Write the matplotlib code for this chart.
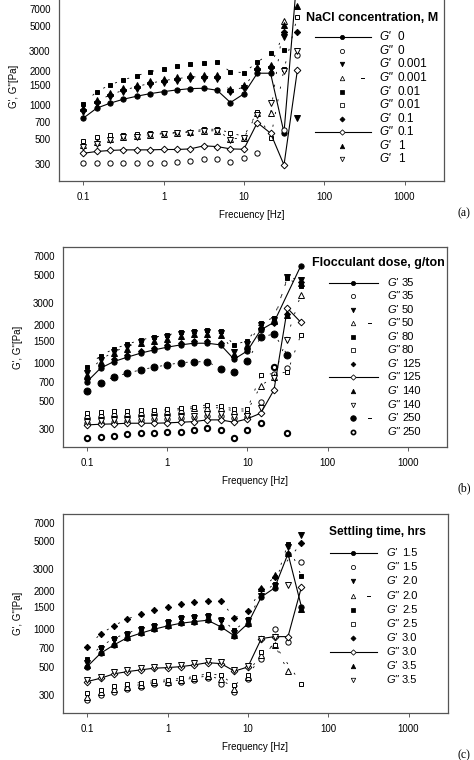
import numpy as np
import matplotlib
matplotlib.use("Agg")
import matplotlib.pyplot as plt
from matplotlib.lines import Line2D

plt.rcParams['font.family'] = ['Liberation Sans', 'DejaVu Sans']

nan = np.nan
W, H = 474, 760

# oscillation frequency sweep [Hz]
freq = [0.1, 0.147, 0.215, 0.316, 0.464, 0.681, 1.0, 1.47, 2.15, 3.16,
        4.64, 6.81, 10.0, 14.7, 21.5, 31.6, 46.4]

# (a) NaCl concentration, M
nacl_mod = ["G'", 'G"', "G'", 'G"', "G'", 'G"', "G'", 'G"', "G'", "G'"]
nacl_val = ["0", "0", "0.001", "0.001", "0.01", "0.01", "0.1", "0.1", "1", "1"]
nacl_data = [
    [762, 935, 1035, 1123, 1194, 1259, 1311, 1358, 1394, 1405, 1350, 1050, 1253, 1909, 1909, 569, 15000],
    [305, 308, 308, 308, 308, 308, 308, 313, 317, 331, 331, 313, 340, 373, nan, 600, 2770],
    [867, 1027, 1177, 1295, 1394, 1494, 1576, 1641, 1698, 1709, 1698, 1300, 1400, 2000, 2100, 4000, 762],
    [440, 470, 500, 520, 530, 545, 555, 565, 575, 590, 590, 500, 510, 850, 845, 5560, nan],
    [1014, 1311, 1503, 1664, 1816, 1971, 2083, 2199, 2305, 2367, 2385, 1971, 1931, 2385, 2905, 3070, nan],
    [483, 524, 543, 543, 551, 562, 562, 573, 581, 609, 609, 569, 524, 872, 507, 2070, 6050],
    [903, 1070, 1226, 1349, 1452, 1556, 1642, 1709, 1769, 1780, 1769, 1338, 1434, 2083, 2184, 4455, 4455],
    [373, 387, 395, 400, 400, 400, 403, 403, 408, 434, 428, 408, 405, 697, 562, 294, 2040],
    [940, 1110, 1275, 1400, 1510, 1620, 1710, 1780, 1840, 1850, 1840, 1390, 1490, 2160, 2250, 5100, 7520],
    [422, 452, 490, 518, 525, 543, 554, 562, 567, 589, 583, 490, 510, 816, 1035, 1990, 3020],
]

# (b) flocculant dose, g/ton
floc_mod = ["G'", 'G"', "G'", 'G"', "G'", 'G"', "G'", 'G"', "G'", 'G"', "G'", 'G"']
floc_val = ["35", "35", "50", "50", "80", "80", "125", "125", "140", "140", "250", "250"]
floc_data = [
    [711, 908, 1024, 1110, 1194, 1268, 1333, 1390, 1433, 1433, 1390, 1070, 1245, 1828, 2103, nan, 5890],
    [332, 336, 342, 348, 353, 357, 360, 364, 375, 382, 382, 364, 375, 493, 820, 918, nan],
    [829, 1057, 1229, 1346, 1476, 1542, 1600, 1690, 1739, 1752, 1721, 1216, 1415, 2003, 2194, 4800, 4560],
    [386, 390, 397, 403, 408, 413, 418, 425, 435, 442, 440, 415, 415, 660, 778, nan, 3460],
    [925, 1143, 1292, 1406, 1523, 1600, 1667, 1752, 1803, 1828, 1803, 1390, 1503, 2088, 2291, 4700, 4080],
    [403, 410, 418, 418, 424, 424, 429, 437, 450, 464, 456, 431, 431, 803, nan, 844, 1667],
    [740, 945, 1065, 1155, 1240, 1320, 1385, 1445, 1490, 1490, 1445, 1110, 1295, 1900, 2066, 2436, 4420],
    [322, 326, 328, 332, 332, 332, 334, 338, 342, 353, 353, 338, 360, 399, 611, 2717, 2103],
    [800, 1020, 1190, 1300, 1430, 1500, 1560, 1650, 1700, 1710, 1680, 1180, 1380, 1950, 2150, 2400, 4300],
    [338, 343, 349, 355, 360, 364, 367, 371, 382, 390, 390, 371, 382, 437, 756, 1523, nan],
    [603, 698, 770, 829, 880, 925, 964, 1005, 1019, 1024, 896, 844, 1037, 1600, 1698, 1157, nan],
    [253, 260, 265, 272, 277, 280, 282, 285, 294, 307, 294, 255, 294, 332, 935, 277, nan],
]

# (c) settling time, hrs
settle_mod = ["G'", 'G"', "G'", 'G"', "G'", 'G"', "G'", 'G"', "G'", 'G"']
settle_val = ["1.5", "1.5", "2.0", "2.0", "2.5", "2.5", "3.0", "3.0", "3.5", "3.5"]
settle_data = [
    [502, 641, 746, 853, 925, 995, 1057, 1110, 1143, 1172, 1037, 880, 1102, 1795, 2115, 3960, 1503],
    [273, 299, 318, 332, 348, 364, 371, 382, 394, 408, 368, 316, 403, 581, 995, 789, 3400],
    [540, 690, 810, 890, 975, 1040, 1120, 1190, 1230, 1250, 1150, 920, 1150, 1820, 2200, 4500, 5590],
    [290, 313, 335, 349, 361, 376, 382, 394, 406, 425, 398, 336, 418, 620, 750, 462, nan],
    [575, 724, 844, 925, 1013, 1076, 1164, 1239, 1275, 1292, 1207, 977, 1194, 1871, 2291, 4750, 2620],
    [309, 328, 353, 366, 375, 389, 394, 406, 418, 442, 429, 357, 434, 656, 750, nan, 368],
    [724, 912, 1062, 1200, 1309, 1415, 1503, 1578, 1647, 1660, 1660, 1222, 1381, 2065, 2586, nan, 4815],
    [382, 406, 440, 458, 473, 488, 493, 502, 518, 540, 530, 462, 499, 838, 869, 869, 2143],
    [515, 655, 765, 870, 945, 1015, 1080, 1130, 1165, 1195, 1060, 900, 1120, 2115, 2670, 4000, 1450],
    [393, 418, 452, 470, 486, 502, 507, 516, 533, 556, 546, 475, 512, 838, 869, 2240, nan],
]

yticks = [300, 500, 700, 1000, 1500, 2000, 3000, 5000, 7000]
xticks = [0.1, 1, 10, 100, 1000]

# marker styles: (marker, filled, size, edge width, line in plot, mark in legend)
st_a = [('o', 1, 3.8, .7, 'solid', 'solid'), ('o', 0, 3.8, .7, None, None),
        ('v', 1, 4.0, .7, None, None), ('^', 0, 4.0, .7, 'dash', 'dash'),
        ('s', 1, 3.4, .7, 'dash', None), ('s', 0, 3.4, .7, 'dash', None),
        ('D', 1, 3.2, .7, 'dash', None), ('D', 0, 3.4, .7, 'solid', 'solid'),
        ('^', 1, 4.0, .7, None, None), ('v', 0, 4.0, .7, None, None)]
st_b = [('o', 1, 3.8, .7, 'solid', 'solid'), ('o', 0, 3.8, .7, None, None),
        ('v', 1, 4.0, .7, 'dash', None), ('^', 0, 4.0, .7, 'dash', 'dash'),
        ('s', 1, 3.4, .7, 'dash', None), ('s', 0, 3.4, .7, 'dash', None),
        ('D', 1, 3.0, .7, None, None), ('D', 0, 3.4, .7, 'solid', 'solid'),
        ('^', 1, 4.0, .7, None, None), ('v', 0, 4.0, .7, None, None),
        ('o', 1, 5.0, .7, 'dash', 'dash'), ('o', 0, 3.8, 1.5, None, None)]
st_c = [('o', 1, 3.8, .7, 'solid', 'solid'), ('o', 0, 3.8, .7, None, None),
        ('v', 1, 4.0, .7, None, None), ('^', 0, 4.0, .7, 'dash', 'dash'),
        ('s', 1, 3.4, .7, 'dash', None), ('s', 0, 3.4, .7, 'dash', None),
        ('D', 1, 3.2, .7, 'dash', None), ('D', 0, 3.4, .7, 'solid', 'solid'),
        ('^', 1, 4.0, .7, None, None), ('v', 0, 4.0, .7, None, None)]

fig = plt.figure(figsize=(W / 100, H / 100), dpi=100)


def fx(x):
    return x / W


def fy(y):
    return 1 - y / H


def mstyle(s, scale=1.0):
    m, filled, ms, mew = s[:4]
    return dict(marker=m, markersize=ms * scale, markeredgewidth=mew * scale, color='black',
                markerfacecolor='black' if filled else 'white', markeredgecolor='black')


def panel(box, ylim, data, styles, mods, vals, title, leg, xlabel, tag, tag_y):
    l, t, r, b = box
    ax = fig.add_axes([fx(l), fy(b), fx(r - l), (b - t) / H])
    ax.set_xscale('log')
    ax.set_yscale('log')
    ax.set_xlim(0.05, 3100)
    ax.set_ylim(*ylim)
    f = np.array(freq)
    for vals_i, s in zip(data, styles):
        v = np.array(vals_i, dtype=float)
        ok = np.isfinite(v)
        ls = {'solid': '-', 'dash': (0, (2.5, 13))}.get(s[4], 'none')
        lw = 0.8 if s[4] == 'solid' else 0.6
        ax.plot(f[ok], v[ok], linestyle=ls, linewidth=lw, **mstyle(s))
    ax.xaxis.set_major_locator(plt.FixedLocator(xticks))
    ax.xaxis.set_minor_locator(plt.NullLocator())
    ax.yaxis.set_major_locator(plt.FixedLocator(yticks))
    ax.yaxis.set_minor_locator(plt.NullLocator())
    ax.set_xticklabels(["0.1", "1", "10", "100", "1000"])
    ax.set_yticklabels([str(v) for v in yticks])
    ax.tick_params(axis='x', direction='out', length=3, width=0.6, pad=5,
                   labelsize=7, color='#444444')
    ax.tick_params(axis='y', length=0, pad=6, labelsize=7)
    for sp in ax.spines.values():
        sp.set_color('#555555')
        sp.set_linewidth(0.9)
    ax.set_xlabel(xlabel, fontsize=7, labelpad=6)
    ax.set_ylabel("G', G''[Pa]", fontsize=7, labelpad=7)
    fig.text(fx(464), fy(tag_y), tag, fontsize=8.5, family='Liberation Serif',
             ha='center', va='center')

    # legend, drawn by hand to keep the original spacing
    tx, ty, y0, dy, mx, lx1, lx2, gx, vx, tsize, fsize = leg
    fig.text(fx(tx), fy(ty), title, fontsize=tsize, fontweight='bold',
             ha='center', va='center')
    for i, (s, m, v) in enumerate(zip(styles, mods, vals)):
        yy = fy(y0 + i * dy)
        if s[5] == 'solid':
            fig.add_artist(Line2D([fx(lx1), fx(lx2)], [yy, yy], color='black',
                                  linewidth=0.8, transform=fig.transFigure))
        elif s[5] == 'dash':
            fig.add_artist(Line2D([fx(lx2 - 10), fx(lx2 - 7)], [yy, yy], color='black',
                                  linewidth=0.7, transform=fig.transFigure))
        fig.add_artist(Line2D([fx(mx)], [yy], linestyle='none',
                              transform=fig.transFigure, **mstyle(s, 0.8)))
        fig.text(fx(gx), yy, m, fontsize=fsize, fontstyle='italic', ha='left', va='center')
        fig.text(fx(vx), yy, v, fontsize=fsize, ha='left', va='center')
    return ax


panel((59, -8, 444, 181), (212, 10000), nacl_data, st_a, nacl_mod, nacl_val,
      "NaCl concentration, M",
      (372, 18, 37.3, 13.56, 342, 315, 371, 379, 398, 9, 8.5),
      "Frecuency [Hz]", "(a)", 213)
panel((63, 247, 447, 447), (215, 8320), floc_data, st_b, floc_mod, floc_val,
      "Flocculant dose, g/ton",
      (378, 262.7, 282.7, 13.54, 353, 329, 378, 387, 402, 9, 8),
      "Frequency [Hz]", "(b)", 488)
panel((63, 514, 448, 713), (215, 8180), settle_data, st_c, settle_mod, settle_val,
      "Settling time, hrs",
      (377, 532, 553.3, 14.07, 353, 330, 377, 386, 402, 8.6, 8),
      "Frequency [Hz]", "(c)", 755)

fig.savefig("out.png", dpi=100)
